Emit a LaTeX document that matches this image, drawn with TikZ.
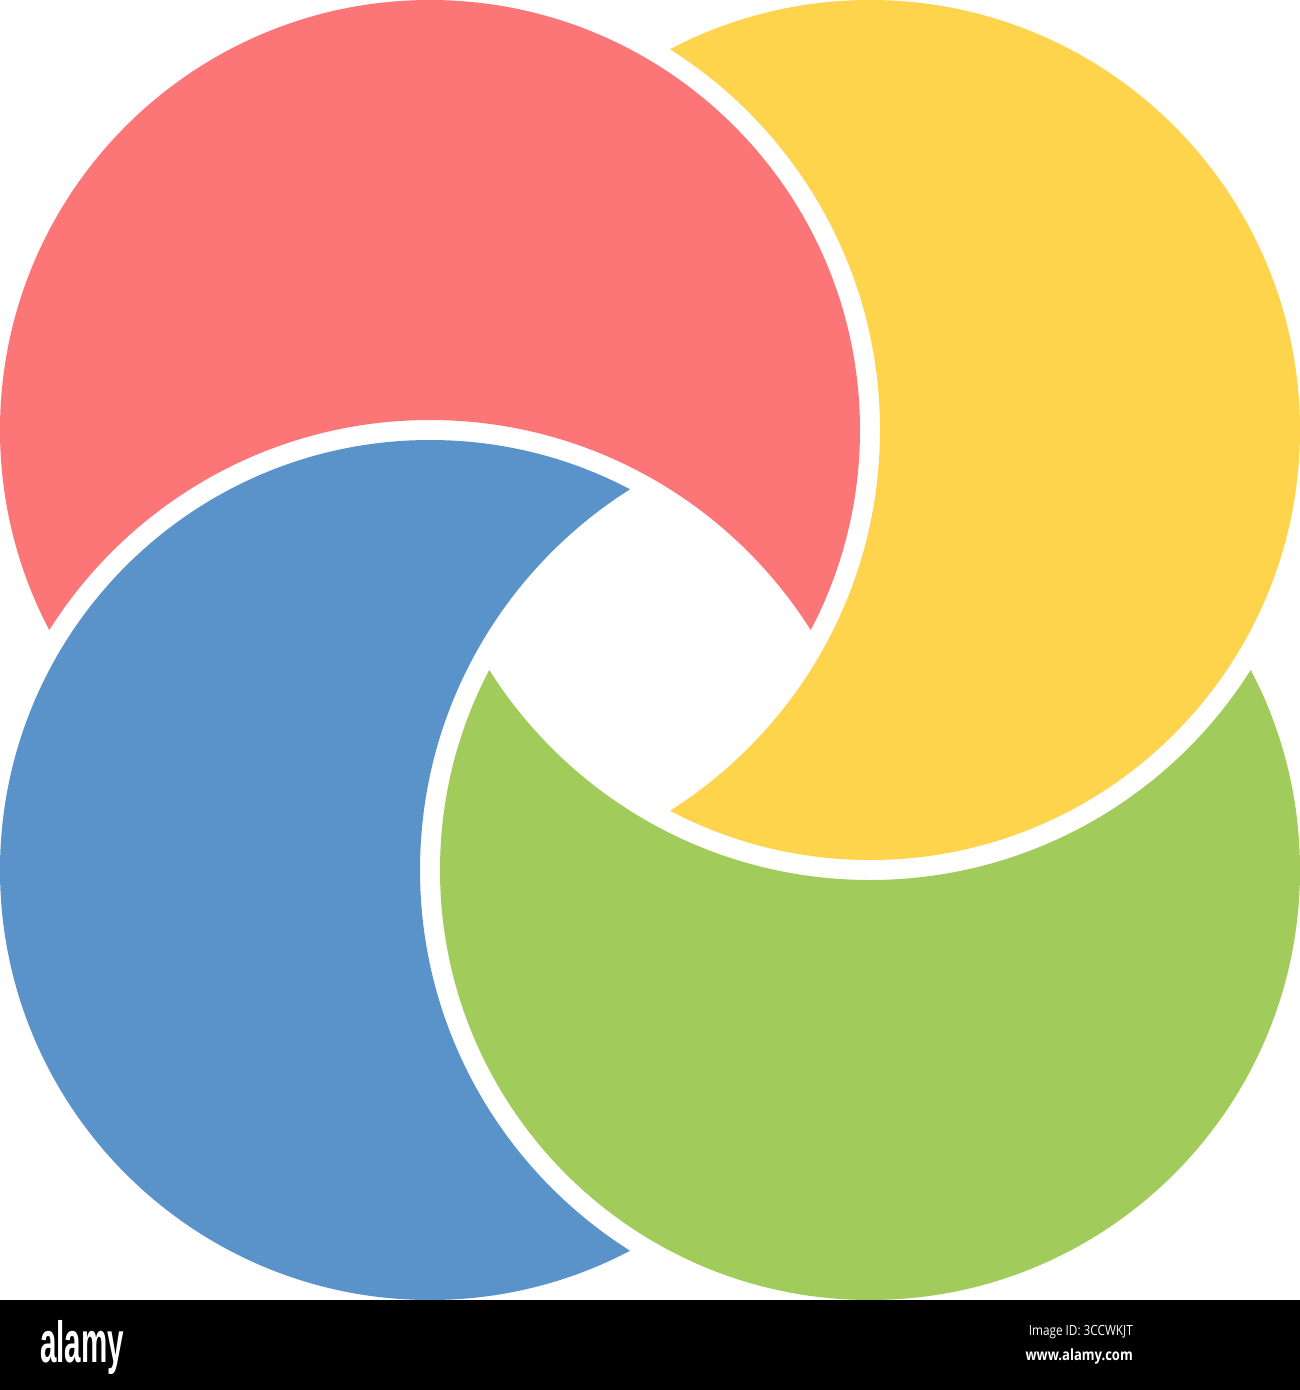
\documentclass[tikz,border=0pt]{standalone}
\usepackage{fontspec}
\setmainfont{Open Sans}
\newfontfamily\logofont{Liberation Sans}
\definecolor{cred}{HTML}{FC7577}
\definecolor{cyellow}{HTML}{FED44C}
\definecolor{cblue}{HTML}{5A93CA}
\definecolor{cgreen}{HTML}{A1CB5B}
\tikzset{
  bartext/.style={text=white, inner sep=0pt},
}
% #1 own centre, #2 centre of the circle that cuts it, #3 colour
\newcommand{\crescent}[3]{%
  \begin{scope}[even odd rule]
    \clip (-100,-100) rectangle (1400,1400) (#2) circle[radius=450];
    \fill[#3] (#1) circle[radius=430];
  \end{scope}}
\begin{document}
\begin{tikzpicture}[x=1pt,y=-1pt]
\useasboundingbox (0,0) rectangle (1300,1390);
\fill[white] (0,0) rectangle (1300,1300);
\coordinate (cR) at (430,430);
\coordinate (cY) at (870,430);
\coordinate (cB) at (430,870);
\coordinate (cG) at (870,870);
\crescent{cR}{cB}{cred}
\crescent{cB}{cG}{cblue}
\crescent{cG}{cY}{cgreen}
\crescent{cY}{cR}{cyellow}
\fill[black] (0,1300) rectangle (1300,1390);
\node[bartext, anchor=base west, font=\logofont\bfseries\fontsize{58}{58}\selectfont] (logo) at (40,1362) {\scalebox{0.51}[1]{alamy}};
\node[bartext, anchor=east, font=\fontsize{14}{14}\selectfont] (imgid) at (1133,1332) {\scalebox{0.84}[1]{Image ID: 3CCWKJT}};
\node[bartext, anchor=east, font=\bfseries\fontsize{15.5}{15.5}\selectfont] (url) at (1133,1356) {\scalebox{0.84}[1]{www.alamy.com}};
\end{tikzpicture}
\end{document}
